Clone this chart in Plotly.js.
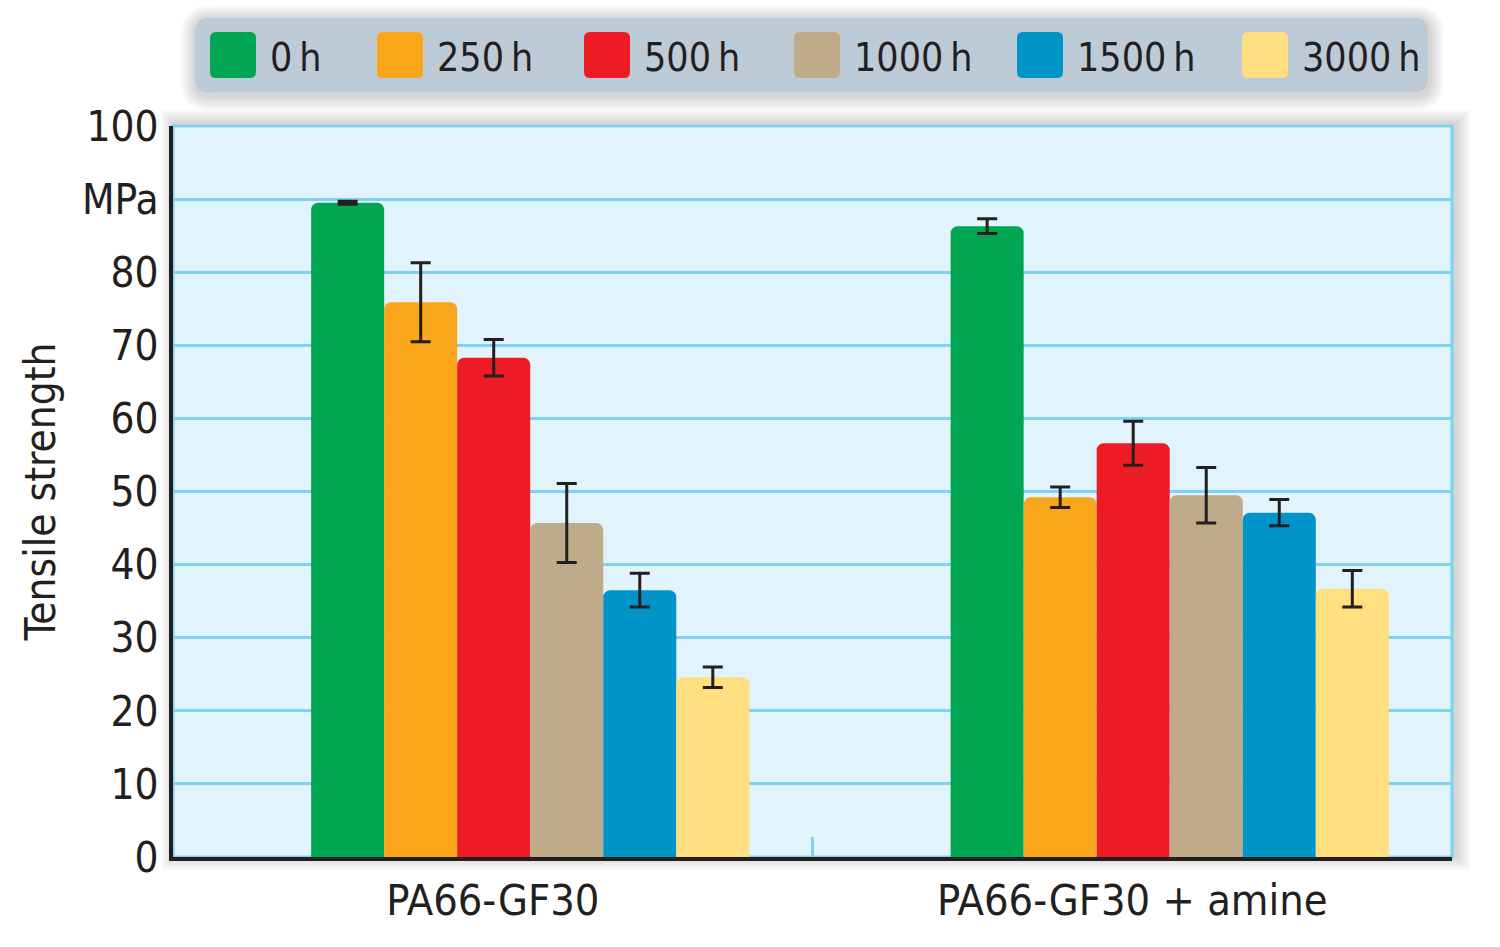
<!DOCTYPE html>
<html>
<head>
<meta charset="utf-8">
<script src="https://cdn.plot.ly/plotly-3.0.1.min.js"></script>
<style>
  html, body { margin: 0; padding: 0; background: #ffffff; }
  #chart { width: 1500px; height: 947px; }
</style>
</head>
<body>
<div id="chart"></div>
<script>
(function () {
  "use strict";

  // Values (MPa).
  const GROUPS = ["PA66-GF30", "PA66-GF30 + amine"];
  const AGEING = ["0\u2009h", "250\u2009h", "500\u2009h", "1000\u2009h", "1500\u2009h", "3000\u2009h"];
  const STRENGTH_PLAIN = [89.5, 75.9, 68.3, 45.7, 36.5, 24.6];
  const STRENGTH_AMINE = [86.3, 49.2, 56.6, 49.5, 47.1, 36.7];
  const ERROR_PLAIN = [0.2, 5.4, 2.5, 5.4, 2.3, 1.4];
  const ERROR_AMINE = [1.0, 1.4, 3.0, 3.8, 1.8, 2.5];
  const Y_TICK_VALUES = [0, 10, 20, 30, 40, 50, 60, 70, 80, 90, 100];
  const Y_TICK_LABELS = ["0", "10", "20", "30", "40", "50", "60", "70", "80", "MPa", "100"];

  const COLORS = ["#00a651", "#faa61a", "#ed1c24", "#bfaa8a", "#0095c9", "#ffdf80"];
  const INK = "#231f20";
  const GRID = "#7fd1f1";
  const FONT = "'Liberation Sans Narrow', 'DejaVu Sans Condensed', 'Roboto Condensed', sans-serif";

  const W = 1500;
  const H = 947;
  const M = { l: 173, r: 48, t: 126, b: 90 };
  const PLOT_W = W - M.l - M.r;
  const PLOT_H = H - M.t - M.b;

  // page pixels -> paper fractions, for the decorations outside the plot
  function pxX(px) { return (px - M.l) / PLOT_W; }
  function pxY(py) { return (M.t + PLOT_H - py) / PLOT_H; }

  // bars sit a little right of each category centre in the original
  const BAR_W = 0.1142;
  const FIRST_OFFSET = -0.284;

  const traces = AGEING.map(function (name, i) {
    return {
      type: "bar",
      name: name,
      x: GROUPS.map(function (_, g) { return g; }),
      y: [STRENGTH_PLAIN[i], STRENGTH_AMINE[i]],
      width: BAR_W,
      offset: FIRST_OFFSET + i * BAR_W,
      marker: { color: COLORS[i], cornerradius: 7, line: { width: 0 } },
      error_y: {
        type: "data",
        array: [ERROR_PLAIN[i], ERROR_AMINE[i]],
        visible: true,
        color: INK,
        thickness: 3,
        width: 10,
      },
      showlegend: false,
      hoverinfo: "skip",
    };
  });

  function roundedRect(w, h, r) {
    const a = w / 2, b = h / 2;
    return "M " + (-a + r) + "," + (-b) +
      " L " + (a - r) + "," + (-b) + " Q " + a + "," + (-b) + " " + a + "," + (-b + r) +
      " L " + a + "," + (b - r) + " Q " + a + "," + b + " " + (a - r) + "," + b +
      " L " + (-a + r) + "," + b + " Q " + (-a) + "," + b + " " + (-a) + "," + (b - r) +
      " L " + (-a) + "," + (-b + r) + " Q " + (-a) + "," + (-b) + " " + (-a + r) + "," + (-b) + " Z";
  }

  function pixelPath(cx, cy, w, h, r, fill) {
    return {
      type: "path", xref: "paper", yref: "paper",
      xsizemode: "pixel", ysizemode: "pixel",
      xanchor: pxX(cx), yanchor: pxY(cy),
      path: roundedRect(w, h, r),
      fillcolor: fill, line: { width: 0 }, layer: "below",
    };
  }

  const shapes = [];
  const annotations = [];

  // soft shadow round the plot area, then the pale blue plot itself
  for (let k = 6; k >= 1; k--) {
    const d = k * 2.5;
    shapes.push({
      type: "rect", xref: "paper", yref: "paper", layer: "below",
      x0: pxX(M.l - d + 3), x1: pxX(W - M.r + d + 3),
      y0: pxY(M.t + PLOT_H + d - 2), y1: pxY(M.t - d - 1),
      fillcolor: "rgba(40,40,40,0.03)", line: { width: 0 },
    });
  }
  shapes.push({
    type: "rect", xref: "paper", yref: "paper", layer: "below",
    x0: 0, x1: 1, y0: 0, y1: 1,
    fillcolor: "#e1f4fd", line: { color: GRID, width: 3 },
  });

  // legend drawn by hand: the built-in swatches cannot be this large
  const LEGEND_CX = 811.5, LEGEND_CY = 55, LEGEND_W = 1233, LEGEND_H = 75;
  for (let k = 6; k >= 1; k--) {
    const d = k * 2.5;
    shapes.push(pixelPath(LEGEND_CX + 1, LEGEND_CY + 3, LEGEND_W + 2 * d, LEGEND_H + 2 * d,
      15 + d, "rgba(40,40,40,0.03)"));
  }
  shapes.push(pixelPath(LEGEND_CX, LEGEND_CY, LEGEND_W, LEGEND_H, 15, "#bdcbd7"));

  const SWATCH_CX = [233, 400, 607, 817, 1040, 1265];
  AGEING.forEach(function (name, i) {
    shapes.push(pixelPath(SWATCH_CX[i], LEGEND_CY, 46, 46, 6, COLORS[i]));
    annotations.push({
      xref: "paper", yref: "paper",
      x: pxX(SWATCH_CX[i] + 35), y: pxY(LEGEND_CY + 2),
      xanchor: "left", yanchor: "middle", showarrow: false,
      text: name, font: { family: FONT, size: 39, color: INK },
    });
  });

  const layout = {
    width: W,
    height: H,
    margin: M,
    paper_bgcolor: "#ffffff",
    plot_bgcolor: "rgba(0,0,0,0)",
    barmode: "overlay",
    showlegend: false,
    font: { family: FONT, color: INK, size: 42 },
    xaxis: {
      range: [-0.5, 1.5],
      tickmode: "array",
      tickvals: GROUPS.map(function (_, g) { return g; }),
      ticktext: GROUPS,
      ticks: "",
      tickfont: { family: FONT, size: 43, color: INK },
      ticklabelstandoff: 2,
      showgrid: false,
      zeroline: false,
      showline: true,
      linecolor: INK,
      linewidth: 4,
      minor: {
        tickmode: "array",
        tickvals: [0.5],
        ticks: "inside",
        ticklen: 20,
        tickwidth: 2.5,
        tickcolor: GRID,
        showgrid: false,
      },
      fixedrange: true,
    },
    yaxis: {
      range: [0, 100],
      tickmode: "array",
      tickvals: Y_TICK_VALUES,
      ticktext: Y_TICK_LABELS,
      ticks: "",
      tickfont: { family: FONT, size: 42, color: INK },
      ticklabelstandoff: 2,
      showgrid: true,
      gridcolor: GRID,
      gridwidth: 3,
      zeroline: false,
      showline: true,
      linecolor: INK,
      linewidth: 4,
      title: {
        text: "Tensile strength",
        font: { family: FONT, size: 42, color: INK },
        standoff: 14,
      },
      fixedrange: true,
    },
    shapes: shapes,
    annotations: annotations,
  };

  Plotly.newPlot("chart", traces, layout, { displayModeBar: false, staticPlot: true });
})();
</script>
</body>
</html>
